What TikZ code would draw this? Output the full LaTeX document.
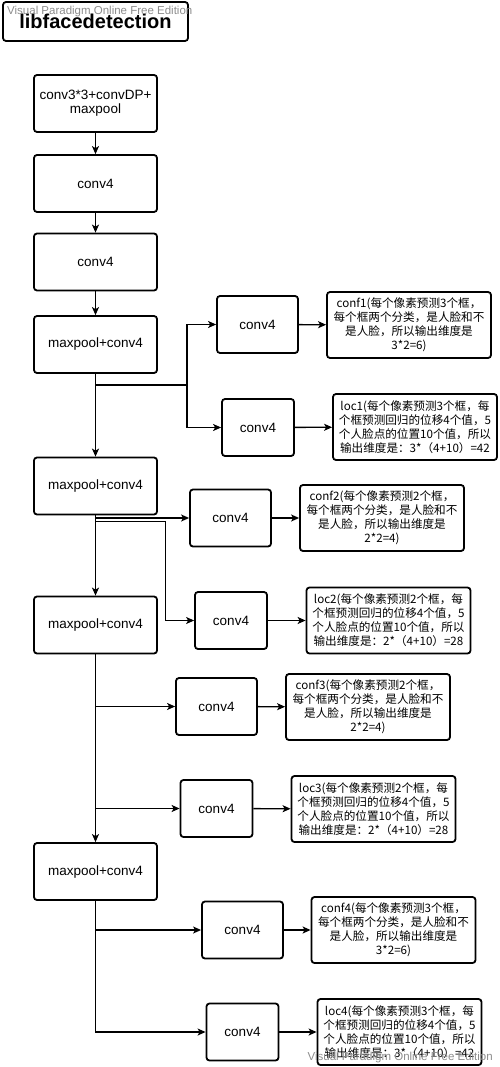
\documentclass[tikz,border=0pt]{standalone}
\usepackage{fontspec}
\setmainfont{Liberation Sans}
\newfontfamily\cjk{Noto Sans CJK SC}
\usetikzlibrary{arrows.meta}
\begin{document}
\begin{tikzpicture}[x=1pt,y=-1pt,
  mainbox/.style={draw, line width=1.8pt, rounded corners=3pt, minimum width=123pt, minimum height=57pt, align=center, font=\fontsize{13.5}{14}\selectfont, inner sep=1pt},
  sidebox/.style={draw, line width=1.8pt, rounded corners=3pt, minimum height=57pt, align=center, font=\fontsize{13.5}{14}\selectfont, inner sep=1pt},
  textbox/.style={draw, line width=1.8pt, rounded corners=3pt, minimum width=164pt, minimum height=66pt, align=center, font=\cjk\fontsize{11.6}{14}\selectfont, inner sep=0pt},
  arr/.style={line width=1.3pt, -{Stealth[length=8pt,width=7pt,inset=2pt]}},
  ln/.style={line width=1.3pt},
  wm/.style={text=black!45, font=\fontsize{11.5}{12}\selectfont, inner sep=0pt}
]
\useasboundingbox (0,0) rectangle (499,1067);

% title
\node[draw, line width=1.8pt, rounded corners=3pt, minimum width=185pt, minimum height=39pt, font=\bfseries\fontsize{20}{22}\selectfont] (title) at (95.5,21.5) {libfacedetection};
\node[wm, anchor=west] (wm1) at (7,12) {Visual Paradigm Online Free Edition};

% main column
\node[mainbox] (b1) at (95.5,103.5) {conv3*3+convDP+\\maxpool};
\node[mainbox] (b2) at (95.5,183.5) {conv4};
\node[mainbox] (b3) at (95.5,262) {conv4};
\node[mainbox] (b4) at (95.5,344.5) {maxpool+conv4};
\node[mainbox] (b5) at (95.5,486) {maxpool+conv4};
\node[mainbox] (b6) at (95.5,625) {maxpool+conv4};
\node[mainbox] (b7) at (95.5,871.5) {maxpool+conv4};

% side conv4 boxes
\node[sidebox, minimum width=81pt] (c1a) at (257.5,324.5) {conv4};
\node[sidebox, minimum width=72pt] (l1a) at (258,427.5) {conv4};
\node[sidebox, minimum width=81pt] (c2a) at (230.5,518) {conv4};
\node[sidebox, minimum width=72pt] (l2a) at (231,620.5) {conv4};
\node[sidebox, minimum width=81pt] (c3a) at (216.5,706.5) {conv4};
\node[sidebox, minimum width=72pt] (l3a) at (216.5,808.5) {conv4};
\node[sidebox, minimum width=81pt] (c4a) at (242.5,930) {conv4};
\node[sidebox, minimum width=72pt] (l4a) at (242.5,1032) {conv4};

% text boxes
\node[textbox] (c1t) at (409,325) {conf1(每个像素预测3个框，\\每个框两个分类，是人脸和不\\是人脸，所以输出维度是\\3*2=6)};
\node[textbox] (l1t) at (415,427) {loc1(每个像素预测3个框，每\\个框预测回归的位移4个值，5\\个人脸点的位置10个值，所以\\输出维度是：3*（4+10）=42};
\node[textbox] (c2t) at (382,518) {conf2(每个像素预测2个框，\\每个框两个分类，是人脸和不\\是人脸，所以输出维度是\\2*2=4)};
\node[textbox] (l2t) at (388.5,620.5) {loc2(每个像素预测2个框，每\\个框预测回归的位移4个值，5\\个人脸点的位置10个值，所以\\输出维度是：2*（4+10）=28};
\node[textbox] (c3t) at (368,707) {conf3(每个像素预测2个框，\\每个框两个分类，是人脸和不\\是人脸，所以输出维度是\\2*2=4)};
\node[textbox] (l3t) at (373.5,809) {loc3(每个像素预测2个框，每\\个框预测回归的位移4个值，5\\个人脸点的位置10个值，所以\\输出维度是：2*（4+10）=28};
\node[textbox] (c4t) at (393.5,930) {conf4(每个像素预测3个框，\\每个框两个分类，是人脸和不\\是人脸，所以输出维度是\\3*2=6)};
\node[textbox] (l4t) at (399.5,1032) {loc4(每个像素预测3个框，每\\个框预测回归的位移4个值，5\\个人脸点的位置10个值，所以\\输出维度是：3*（4+10）=42};

% main chain
\draw[arr] (b1) -- (b2);
\draw[arr] (b2) -- (b3);
\draw[arr] (b3) -- (b4);
\draw[arr] (b4) -- (b5);
\draw[arr] (b5) -- (b6);
\draw[arr] (b6) -- (b7);

% branch from b4
\coordinate (j4) at (95.5,385);
\coordinate (s4) at (187,385);
\draw[ln] (j4) -- (s4);
\draw[arr] (s4) |- (c1a.west);
\draw[arr] (s4) |- (l1a.west);

% branch from b5
\coordinate (j5a) at (95.5,518);
\coordinate (j5b) at (95.5,521);
\coordinate (k5) at (165,521);
\draw[arr] (j5a) -- (c2a.west);
\draw[arr, line width=1pt] (j5b) -- (k5) |- (l2a.west);

% branch from b6
\draw[arr] (b6.south |- c3a.west) -- (c3a.west);
\draw[arr] (b6.south |- l3a.west) -- (l3a.west);

% branch from b7
\draw[arr] (b7.south) |- (l4a.west);
\draw[arr] (b7.south |- c4a.west) -- (c4a.west);

% conv -> text
\draw[arr] (c1a) -- (c1t);
\draw[arr] (l1a) -- (l1t);
\draw[arr] (c2a) -- (c2t);
\draw[arr] (l2a) -- (l2t);
\draw[arr] (c3a) -- (c3t);
\draw[arr] (l3a) -- (l3t);
\draw[arr] (c4a) -- (c4t);
\draw[arr] (l4a) -- (l4t);

\node[wm, anchor=east] (wm2) at (493,1058) {Visual Paradigm Online Free Edition};
\end{tikzpicture}
\end{document}
